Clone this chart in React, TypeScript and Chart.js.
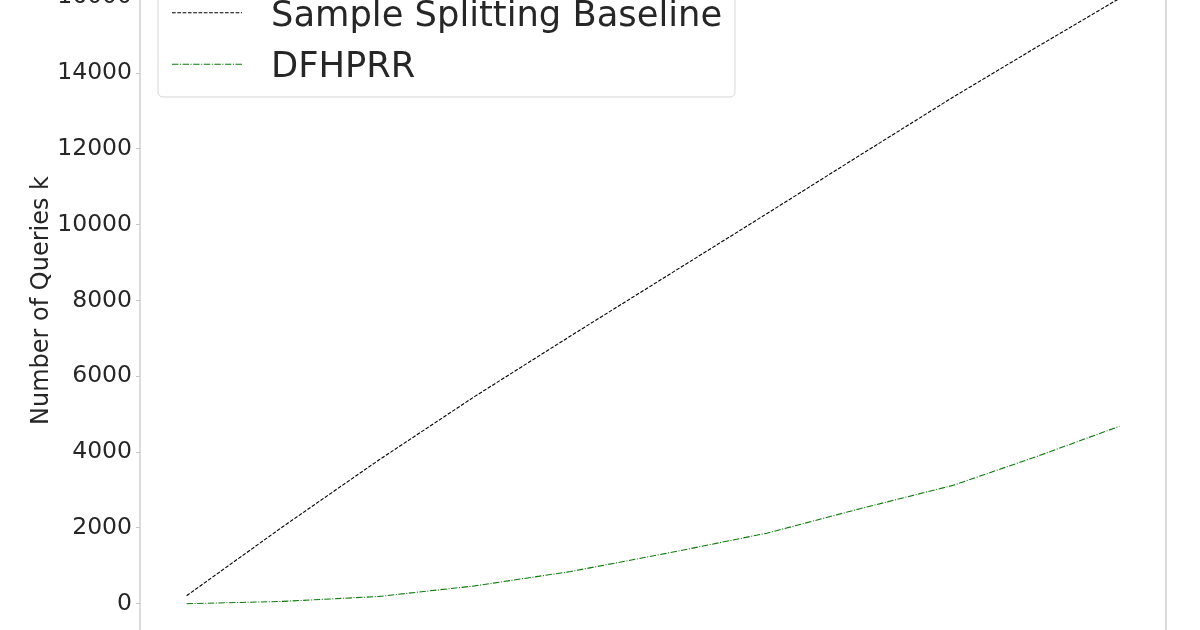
import { useEffect, useRef } from "react";
import Chart from "chart.js/auto";

// x positions of the measured points (axis labels fall outside the crop)
const xValues = [0, 10.3, 20.6, 30.9, 41.2, 51.7, 62.2, 72.1, 82.2, 91.1, 100];
const baselineQueries = [210, 2030, 3790, 5470, 7070, 8680, 10290, 11820, 13370, 14680, 15970];
const dfhprrQueries = [0, 60, 190, 470, 850, 1340, 1860, 2500, 3125, 3880, 4680];
const yTicks = [0, 2000, 4000, 6000, 8000, 10000, 12000, 14000, 16000];
const seriesLabels = ["Sample Splitting Baseline", "DFHPRR"];
const yTitle = "Number of Queries k";

const FONT = '"DejaVu Sans", sans-serif';
const TEXT = "#262626";
const SPINE = "#c4c4c4";

const framePlugin = {
  id: "frame",
  beforeDatasetsDraw(chart: any) {
    const { ctx, chartArea } = chart;
    ctx.save();
    ctx.strokeStyle = SPINE;
    ctx.lineWidth = 1.2;
    ctx.strokeRect(chartArea.left, chartArea.top, chartArea.right - chartArea.left, chartArea.bottom - chartArea.top);
    ctx.restore();
  },
};

const legendBoxPlugin = {
  id: "legendBox",
  afterDraw(chart: any) {
    const { ctx, chartArea } = chart;
    const left = chartArea.left + 18;
    const top = chartArea.top + 15;
    const w = 577;
    const h = 115;
    ctx.save();
    ctx.globalAlpha = 0.8;
    ctx.fillStyle = "#ffffff";
    ctx.strokeStyle = "#cccccc";
    ctx.lineWidth = 1;
    ctx.beginPath();
    ctx.roundRect(left, top, w, h, 5);
    ctx.fill();
    ctx.stroke();
    ctx.globalAlpha = 1;
    chart.data.datasets.forEach((ds: any, i: number) => {
      const y = top + 30.8 + i * 51.5;
      ctx.strokeStyle = ds.borderColor;
      ctx.lineWidth = ds.borderWidth;
      ctx.setLineDash(ds.borderDash || []);
      ctx.beginPath();
      ctx.moveTo(left + 14, y);
      ctx.lineTo(left + 84, y);
      ctx.stroke();
      ctx.setLineDash([]);
      ctx.fillStyle = TEXT;
      ctx.font = `35.3px ${FONT}`;
      ctx.textBaseline = "alphabetic";
      ctx.textAlign = "left";
      ctx.fillText(ds.label, left + 113, y + 12.8);
    });
    ctx.restore();
  },
};

export default function App() {
  const chartRef = useRef<HTMLCanvasElement>(null);
  const chartInstance = useRef<Chart | null>(null);

  useEffect(() => {
    if (!chartRef.current) return;
    if (chartInstance.current) chartInstance.current.destroy();

    chartInstance.current = new Chart(chartRef.current, {
      type: "line",
      data: {
        datasets: [
          {
            label: seriesLabels[0],
            data: xValues.map((x, i) => ({ x, y: baselineQueries[i] })),
            borderColor: "#000000",
            borderWidth: 1.1,
            borderDash: [3.7, 1.6],
            pointRadius: 0,
            tension: 0,
          },
          {
            label: seriesLabels[1],
            data: xValues.map((x, i) => ({ x, y: dfhprrQueries[i] })),
            borderColor: "#0b7a0b",
            borderWidth: 1.1,
            borderDash: [6.4, 1.6, 1, 1.6],
            pointRadius: 0,
            tension: 0,
          },
        ],
      },
      options: {
        animation: false,
        responsive: true,
        maintainAspectRatio: false,
        layout: { padding: { top: 24, right: 34, left: 0, bottom: 0 } },
        plugins: {
          legend: { display: false },
          tooltip: { enabled: false },
        },
        scales: {
          x: {
            type: "linear",
            min: -5,
            max: 105,
            ticks: { display: false },
            grid: { display: false },
            border: { display: false },
            afterFit: (scale: any) => {
              scale.height = 69;
            },
          },
          y: {
            type: "linear",
            min: -800,
            max: 16800,
            afterBuildTicks: (scale: any) => {
              scale.ticks = yTicks.map((v) => ({ value: v }));
            },
            afterFit: (scale: any) => {
              scale.width = 140;
            },
            ticks: {
              color: TEXT,
              font: { family: FONT, size: 23.5 },
              padding: 4,
              callback: (v: any) => String(v),
            },
            grid: {
              drawOnChartArea: false,
              drawTicks: true,
              tickLength: 4,
              tickColor: SPINE,
            },
            border: { display: false },
            title: {
              display: true,
              text: yTitle,
              color: TEXT,
              font: { family: FONT, size: 24 },
              padding: { top: 27, bottom: 0 },
            },
          },
        },
      },
      plugins: [framePlugin, legendBoxPlugin],
    });

    return () => {
      if (chartInstance.current) {
        chartInstance.current.destroy();
        chartInstance.current = null;
      }
    };
  }, []);

  return (
    <div
      style={{
        position: "fixed",
        left: 0,
        top: 0,
        width: 1200,
        height: 630,
        overflow: "hidden",
        background: "#ffffff",
      }}
    >
      <div style={{ position: "absolute", left: 0, top: -57.5, width: 1200, height: 760 }}>
        <canvas ref={chartRef} />
      </div>
    </div>
  );
}
